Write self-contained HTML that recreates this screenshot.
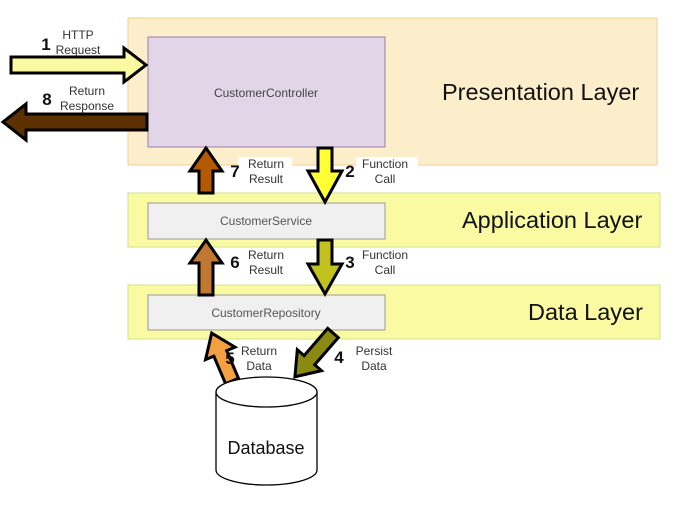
<!DOCTYPE html>
<html><head><meta charset="utf-8"><style>
html,body{margin:0;padding:0;background:#fff;}
svg{display:block;font-family:"Liberation Sans",Arial,sans-serif;}
</style></head><body>
<svg width="684" height="508" viewBox="0 0 684 508" xmlns="http://www.w3.org/2000/svg">
<rect x="128" y="18" width="529" height="147" fill="#fdeecb" stroke="#f2cf96" stroke-width="1"/>
<rect x="128" y="193" width="532" height="54" fill="#fafaa2" stroke="#d2e08c" stroke-width="1"/>
<rect x="128" y="285" width="532" height="54" fill="#fafaa2" stroke="#d2e08c" stroke-width="1"/>
<rect x="148" y="37" width="237" height="110" fill="#e3d5e8" stroke="#9a80a8" stroke-width="1"/>
<rect x="148" y="203" width="237" height="36" fill="#f0f0f0" stroke="#999" stroke-width="1"/>
<rect x="148" y="295" width="237" height="35" fill="#f0f0f0" stroke="#999" stroke-width="1"/>
<text x="266" y="97" font-size="12" fill="#444" text-anchor="middle">CustomerController</text>
<text x="266" y="225" font-size="12" fill="#555" text-anchor="middle">CustomerService</text>
<text x="266" y="317" font-size="12" fill="#555" text-anchor="middle">CustomerRepository</text>
<text x="442" y="100" font-size="23.5" fill="#111">Presentation Layer</text>
<text x="462" y="228" font-size="23.5" fill="#111">Application Layer</text>
<text x="528" y="320" font-size="23.5" fill="#111">Data Layer</text>
<g stroke="#000" stroke-width="3" stroke-linejoin="miter">
<polygon points="11,57 124,57 124,48 146,65 124,82 124,73 11,73" fill="#fafaa0"/>
<polygon points="147,114 26,114 26,104 3,122 26,140 26,130 147,130" fill="#5c3000"/>
<polygon points="199,193 199,171 190,171 206,148 222,171 213,171 213,193" fill="#b35900"/>
<polygon points="318,148 318,171 308,171 325,202 342,171 332,171 332,148" fill="#ffff33"/>
<polygon points="199,295 199,263 190,263 206,240 222,263 213,263 213,295" fill="#c07830"/>
<polygon points="318,240 318,264 308,264 325,294 342,264 332,264 332,240" fill="#c2c21e"/>
<g transform="translate(232,381) rotate(-113)">
<polygon points="0,-7 30,-7 30,-16 52,0 30,16 30,7 0,7" fill="#f5a040"/>
</g>
<g transform="translate(333,333) rotate(131)">
<polygon points="0,-7 36,-7 36,-16 58,0 36,16 36,7 0,7" fill="#8a8a10"/>
</g>
</g>
<g stroke="#000" stroke-width="1.3" fill="#fff">
<path d="M216,392 L216,470 A50.5,15 0 0 0 317,470 L317,392"/>
<ellipse cx="266.5" cy="392" rx="50.5" ry="15"/>
</g>
<text x="266" y="454" font-size="18" fill="#111" text-anchor="middle">Database</text>
<g font-size="12" fill="#333" text-anchor="middle">
<rect x="238" y="157" width="54" height="28" fill="#fff"/>
<rect x="356" y="157" width="62" height="28" fill="#fff"/>
<text x="78" y="39">HTTP</text><text x="78" y="54">Request</text>
<text x="87" y="95">Return</text><text x="87" y="110">Response</text>
<text x="266" y="168">Return</text><text x="266" y="183">Result</text>
<text x="385" y="168">Function</text><text x="385" y="183">Call</text>
<text x="266" y="259">Return</text><text x="266" y="274">Result</text>
<text x="385" y="259">Function</text><text x="385" y="274">Call</text>
<text x="259" y="355">Return</text><text x="259" y="370">Data</text>
<text x="374" y="355">Persist</text><text x="374" y="370">Data</text>
</g>
<g font-size="17" font-weight="bold" fill="#111" text-anchor="middle">
<text x="46" y="50">1</text>
<text x="47" y="105">8</text>
<text x="235" y="177">7</text>
<text x="350" y="177">2</text>
<text x="235" y="268">6</text>
<text x="350" y="268">3</text>
<text x="230" y="364">5</text>
<text x="339" y="363">4</text>
</g>
</svg>
</body></html>
